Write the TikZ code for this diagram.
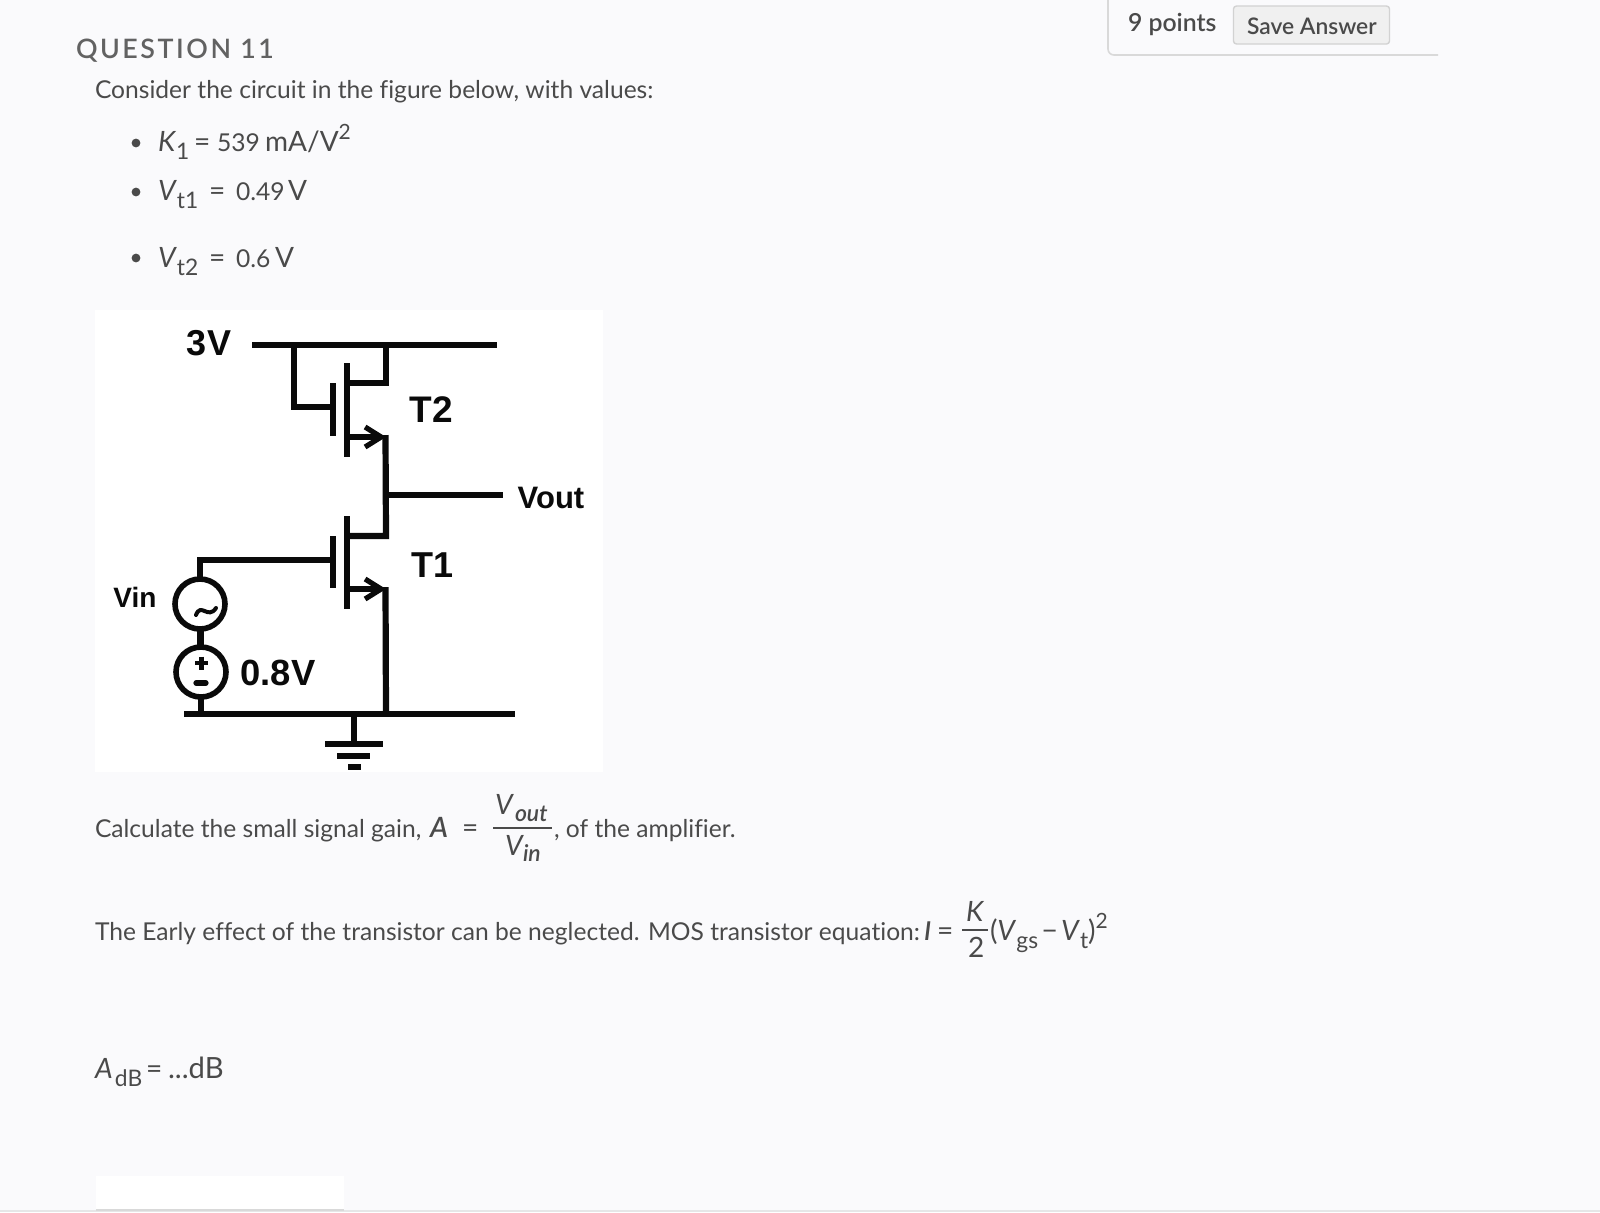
\documentclass[tikz,border=0pt]{standalone}
\usepackage{fontspec}
\usetikzlibrary{arrows.meta}
\setmainfont[Ligatures=NoCommon]{Lato}
\newfontfamily\titlefont[LetterSpace=9.5]{Lato Semibold}
\newfontfamily\medfont{Lato Semibold}
\newfontfamily\circfont{Liberation Sans}
\definecolor{pagebg}{HTML}{FAFAFC}
\definecolor{bodytxt}{HTML}{4A4A4A}
\definecolor{titletxt}{HTML}{626262}
\definecolor{panelbd}{HTML}{D9D9D9}
\definecolor{btnfill}{HTML}{F0F0F0}
\definecolor{btnbd}{HTML}{D2D2D2}
\definecolor{inkblack}{HTML}{0A0A0A}
\newcommand{\subtxt}[1]{\raisebox{-0.3em}{\fontsize{11.4pt}{13pt}\selectfont #1}}
\newcommand{\suptxt}[1]{\raisebox{0.42em}{\fontsize{10.5pt}{12pt}\selectfont #1}}
\tikzset{
  x=0.5pt,y=-0.5pt,
  txt/.style={anchor=base west,inner sep=0pt,outer sep=0pt,text=bodytxt,font=\fontsize{12.3pt}{15pt}\selectfont},
  mtxt/.style={txt,font=\fontsize{14pt}{16pt}\selectfont},
  smalli/.style={txt,font=\medfont\itshape\fontsize{11.5pt}{13pt}\selectfont},
  wire/.style={draw=inkblack,line width=3.1pt,line cap=butt},
  plate/.style={wire,line width=3.4pt},
  srcarrow/.style={wire,-{Straight Barb[length=8pt,width=10pt,line width=2.6pt]}},
  source/.style={circle,draw=inkblack,line width=2.8pt,fill=white,minimum size=25pt,inner sep=0pt},
  circtxt/.style={anchor=center,inner sep=0pt,text=inkblack},
  bullet/.style={circle,fill=bodytxt,minimum size=4.4pt,inner sep=0pt},
  eqbar/.style={draw=bodytxt,line width=0.9pt}
}
\begin{document}
\begin{tikzpicture}
\useasboundingbox (0,0) rectangle (1600,1212);
\fill[pagebg] (0,0) rectangle (1600,1212);
\draw[panelbd!60!pagebg,line width=0.6pt] (0,1211) -- (1600,1211);
% top-right panel
\draw[panelbd,line width=0.8pt,rounded corners=3pt] (1108,-4) -- (1108,55) -- (1438,55);
\node[txt,font=\medfont\fontsize{12.4pt}{15pt}\selectfont] (points) at (1128,31) {9 points};
\node[draw=btnbd,fill=btnfill,line width=0.7pt,rounded corners=1.5pt,minimum width=78pt,minimum height=19pt,inner sep=0pt] (save) at (1311.5,25) {};
\node[txt,font=\medfont\fontsize{11.4pt}{15pt}\selectfont] (savetxt) at (1247,34) {Save Answer};
% header
\node[txt,text=titletxt,font=\titlefont\fontsize{13.4pt}{15pt}\selectfont] (title) at (76,58) {QUESTION 11};
\node[txt] (intro) at (95,98) {Consider the circuit in the figure below, with values:};
% values
\node[bullet] (b1) at (136,143) {};
\node[bullet] (b2) at (136,192) {};
\node[bullet] (b3) at (136,258) {};
\node[mtxt] (k1) at (158,151) {\textit{K}\subtxt{1}};
\node[mtxt] (k1eq) at (194,151) {=};
\node[txt] (k1val) at (217,151) {539};
\node[mtxt] (k1unit) at (265,151) {mA/V\suptxt{2}};
\node[mtxt] (vt1) at (158,200) {\textit{V}\subtxt{t1}};
\node[mtxt] (vt1eq) at (209,200) {=};
\node[txt] (vt1val) at (236,200) {0.49};
\node[mtxt] (vt1u) at (288,200) {V};
\node[mtxt] (vt2) at (158,267) {\textit{V}\subtxt{t2}};
\node[mtxt] (vt2eq) at (209,267) {=};
\node[txt] (vt2val) at (236,267) {0.6};
\node[mtxt] (vt2u) at (275,267) {V};
% figure panel
\fill[white] (95,310) rectangle (603,772);
% circuit coordinates
\coordinate (vddL) at (252,345);
\coordinate (vddR) at (497,345);
\coordinate (g2t) at (294,345);
\coordinate (g2c) at (294,407);
\coordinate (g2p) at (333,407);
\coordinate (d2t) at (386,345);
\coordinate (d2c) at (386,383);
\coordinate (d2p) at (347,383);
\coordinate (s2p) at (347,437);
\coordinate (s2c) at (386,437);
\coordinate (d1c) at (386,536);
\coordinate (d1p) at (347,536);
\coordinate (outL) at (386,495);
\coordinate (outR) at (503,495);
\coordinate (s1p) at (347,589);
\coordinate (s1c) at (386,589);
\coordinate (gndS) at (386,714);
\coordinate (g1p) at (333,560);
\coordinate (g1c) at (200,560);
\coordinate (gndL) at (184,714);
\coordinate (gndR) at (515,714);
\coordinate (gndJ) at (354,714);
\coordinate (gndT) at (354,744);
\coordinate (vdcB) at (201,714);
% wires
\draw[wire] (vddL) -- (vddR);
\draw[wire] (g2t) -- (g2c) -- (g2p);
\draw[wire] (d2t) -- (d2c) -- (d2p);
\draw[plate] (333,383) -- (333,436);
\draw[plate] (347,363) -- (347,457);
\draw[srcarrow] (s2p) -- (s2c);
\draw[wire] (385.5,435) -- (d1c) -- (d1p);
\draw[wire] (outL) -- (outR);
\draw[plate] (333,536) -- (333,588);
\draw[plate] (347,516) -- (347,609);
\draw[srcarrow] (s1p) -- (s1c);
\draw[wire] (385.5,587) -- (gndS);
\draw[wire] (g1p) -- (g1c) -- (200,585);
\draw[wire] (200.5,625) -- (200.5,650);
\draw[wire] (vdcB) -- (201,695);
\draw[wire] (gndL) -- (gndR);
\draw[wire] (gndJ) -- (gndT);
\draw[wire] (325,744) -- (383,744);
\draw[wire] (337,756) -- (370,756);
\draw[wire] (348,767) -- (361,767);
% sources
\node[source] (vin) at (200,604) {};
\node[source] (vdc) at (201,672) {};
\draw[inkblack,line width=2pt,line cap=round] (196,615) .. controls (201,602) and (208,620) .. (216,608);
\draw[inkblack,line width=2.4pt,line cap=butt] (195,663) -- (208,663) (201.5,656.5) -- (201.5,669.5);
\draw[inkblack,line width=2.6pt,line cap=round] (196,683) -- (206,683);
% circuit labels
\node[circtxt,font=\circfont\bfseries\fontsize{18pt}{20pt}\selectfont] (l3v) at (209,343) {3V};
\node[circtxt,font=\circfont\bfseries\fontsize{18.5pt}{20pt}\selectfont] (lt2) at (431,410) {T2};
\node[circtxt,font=\circfont\bfseries\fontsize{18pt}{20pt}\selectfont] (lt1) at (433,565) {T1};
\node[circtxt,font=\circfont\bfseries\fontsize{15.5pt}{18pt}\selectfont] (lvout) at (551,498) {Vout};
\node[circtxt,font=\circfont\bfseries\fontsize{14pt}{16pt}\selectfont] (lvin) at (135,597) {Vin};
\node[circtxt,font=\circfont\bfseries\fontsize{18.2pt}{20pt}\selectfont] (l08) at (278,673) {0.8V};
% gain line
\node[txt] (calc) at (95,837) {Calculate the small signal gain,};
\node[mtxt,font=\medfont\itshape\fontsize{14pt}{16pt}\selectfont] (aa) at (430,837) {A};
\node[mtxt] (eqa) at (462,837) {=};
\node[mtxt] (vo) at (495,814) {\textit{V}};
\node[smalli] (voS) at (515,821) {out};
\draw[eqbar] (493,828) -- (552,828);
\node[mtxt] (vi) at (505,855) {\textit{V}};
\node[smalli] (viS) at (523,861) {in};
\node[txt] (ofamp) at (554,837) {, of the amplifier.};
% equation line
\node[txt] (early) at (95,940) {The Early effect of the transistor can be neglected. MOS transistor equation:};
\node[mtxt,font=\medfont\itshape\fontsize{13pt}{16pt}\selectfont] (ii) at (924,940) {I};
\node[mtxt] (eqi) at (937,940) {=};
\node[mtxt] (kk) at (966,921) {\textit{K}};
\draw[eqbar] (962,930) -- (988,930);
\node[mtxt] (two) at (968,957) {2};
\node[mtxt] (vgs) at (990,940) {(\textit{V}\subtxt{gs}\hspace{0.12em}−\hspace{0.12em}\textit{V}\subtxt{t})\suptxt{2}};
% answer
\node[mtxt] (adb) at (95,1078) {\textit{A}\hspace{0.08em}\subtxt{dB}};
\node[mtxt] (adbeq) at (146,1078) {=};
\node[mtxt,font=\fontsize{14.6pt}{16pt}\selectfont] (adbval) at (168,1078) {...dB};
\fill[white] (96,1176) rectangle (344,1209);
\draw[panelbd,line width=1.2pt] (96,1210) -- (344,1210);
\end{tikzpicture}
\end{document}
